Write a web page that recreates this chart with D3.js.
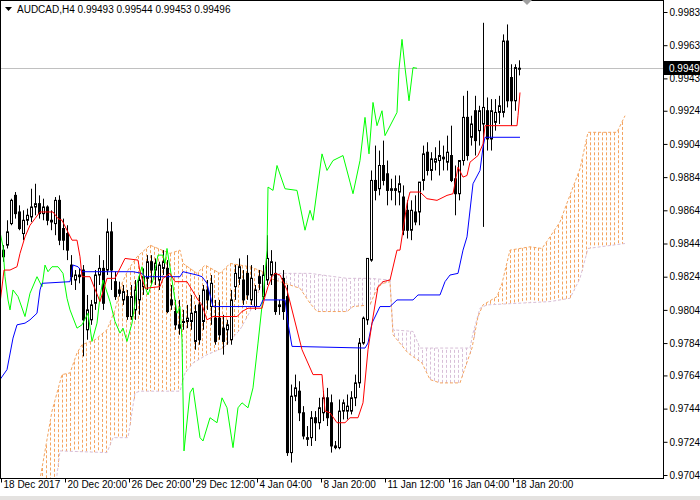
<!DOCTYPE html>
<html><head><meta charset="utf-8">
<script src="https://cdn.jsdelivr.net/npm/d3@7"></script>
<style>body{margin:0;background:#fff}svg{display:block}text{font-family:"Liberation Sans",Arial,sans-serif}</style>
</head><body><svg id="c" width="700" height="500"></svg>
<script>
const symbol = "AUDCAD,H4";
const lastQuote = [0.99493, 0.99544, 0.99453, 0.99496];
const dateLabels = ["18 Dec 2017","20 Dec 20:00","26 Dec 20:00","29 Dec 12:00","4 Jan 04:00","8 Jan 20:00","11 Jan 12:00","16 Jan 04:00","18 Jan 20:00"];
const dateLabelBars = [0,16,32,48,64,80,96,112,128];
const priceTicks = [0.99835,0.99635,0.99435,0.99240,0.99040,0.98840,0.98640,0.98440,0.98240,0.98040,0.97840,0.97645,0.97445,0.97245,0.97045];
// OHLC per H4 bar
const opens  = [.9840,.9843,.9856,.9873,.9863,.9850,.9858,.9860,.9866,.9868,.9862,.9866,.9858,.9856,.9870,.9853,.9850,.9831,.9822,.9825,.9828,.9792,.9798,.9808,.9825,.9829,.9828,.9851,.9821,.9816,.9810,.9812,.9800,.9804,.9810,.9818,.9823,.9833,.9828,.9822,.9829,.9829,.9810,.9803,.9795,.9797,.9797,.9797,.9785,.9807,.9797,.9816,.9806,.9799,.9799,.9793,.9792,.9786,.9818,.9823,.9822,.9826,.9810,.9806,.9824,.9812,.9822,.9825,.9826,.9806,.9823,.9812,.9718,.9752,.9755,.9742,.9726,.9727,.9739,.9736,.9742,.9751,.9748,.9722,.9721,.9743,.9743,.9743,.9751,.9760,.9784,.9798,.9834,.9882,.9877,.9891,.9886,.9876,.9877,.9875,.9872,.9864,.9852,.9863,.9863,.9882,.9899,.9888,.9893,.9894,.9895,.9893,.9897,.9883,.9874,.9894,.9920,.9908,.9924,.9912,.9916,.9924,.9907,.9917,.9923,.9923,.9966,.9944,.9930,.99493];
const highs  = [.9843,.9858,.9871,.9875,.9867,.9864,.9865,.9877,.9880,.9873,.9871,.9867,.9864,.9872,.9873,.9859,.9855,.9837,.9828,.9829,.9831,.9813,.9810,.9828,.9837,.9834,.9859,.9857,.9827,.9821,.9819,.9816,.9819,.9822,.9825,.9829,.9837,.9837,.9835,.9833,.9840,.9834,.9819,.9810,.9810,.9804,.9807,.9813,.9807,.9813,.9819,.9822,.9825,.9810,.9810,.9801,.9798,.9816,.9831,.9835,.9828,.9837,.9831,.9819,.9828,.9831,.9849,.9840,.9833,.9810,.9828,.9819,.9759,.9765,.9761,.9746,.9734,.9743,.9743,.9751,.9755,.9757,.9753,.9725,.9750,.9750,.9753,.9755,.9765,.9787,.9800,.9835,.9888,.9903,.9900,.9906,.9894,.9883,.9885,.9885,.9879,.9870,.9870,.9873,.9881,.9903,.9905,.9899,.9902,.9906,.9903,.9909,.9915,.9891,.9894,.9933,.9936,.9921,.9933,.9927,.9977,.9932,.9931,.9931,.9933,.9970,.9976,.9952,.9952,.99544];
const lows   = [.9833,.9841,.9855,.9859,.9852,.9846,.9855,.9857,.9861,.9859,.9858,.9855,.9852,.9849,.9843,.9840,.9834,.9819,.9816,.9820,.9776,.9786,.9795,.9804,.9819,.9804,.9825,.9816,.9810,.9812,.9807,.9798,.9798,.9798,.9801,.9813,.9816,.9819,.9819,.9816,.9825,.9802,.9804,.9792,.9789,.9792,.9793,.9792,.9780,.9783,.9792,.9804,.9795,.9783,.9786,.9777,.9783,.9783,.9810,.9819,.9807,.9810,.9807,.9804,.9816,.9810,.9819,.9819,.9801,.9801,.9798,.9716,.9712,.9749,.9737,.9726,.9722,.9722,.9725,.9732,.9737,.9734,.9718,.9720,.9720,.9738,.9738,.9741,.9746,.9757,.9783,.9795,.9833,.9870,.9873,.9879,.9867,.9870,.9867,.9867,.9849,.9847,.9846,.9855,.9855,.9876,.9885,.9882,.9888,.9885,.9888,.9888,.9881,.9861,.9870,.9891,.9894,.9903,.9897,.9903,.9854,.9900,.9900,.9912,.9916,.9920,.9926,.9915,.9924,.99453];
const closes = [.9836,.9851,.9870,.9862,.9853,.9858,.9861,.9866,.9868,.9862,.9866,.9858,.9857,.9870,.9846,.9846,.9840,.9824,.9825,.9824,.9798,.9804,.9807,.9825,.9829,.9808,.9851,.9828,.9812,.9814,.9815,.9800,.9812,.9816,.9822,.9824,.9833,.9828,.9832,.9831,.9833,.9803,.9807,.9795,.9793,.9797,.9799,.9802,.9803,.9786,.9816,.9810,.9820,.9785,.9789,.9785,.9795,.9810,.9826,.9830,.9810,.9813,.9823,.9816,.9820,.9825,.9835,.9833,.9803,.9807,.9803,.9718,.9752,.9757,.9742,.9728,.9727,.9739,.9736,.9745,.9751,.9739,.9722,.9721,.9743,.9748,.9746,.9751,.9760,.9784,.9799,.9835,.9882,.9876,.9891,.9882,.9876,.9877,.9876,.9880,.9852,.9852,.9864,.9857,.9881,.9898,.9888,.9895,.9895,.9897,.9896,.9899,.9882,.9874,.9894,.9920,.9897,.9916,.9906,.9924,.9926,.9907,.9924,.9923,.9927,.9966,.9930,.9930,.9950,.99496];
// Ichimoku lines as [bar index, price]
const tenkan = [[-0.75,.9808],[0.25,.9828],[1.75,.9828],[3.5,.9830],[4.25,.9838],[5.5,.9848],[6.75,.9855],[8,.9859],[9.25,.9863],[12.5,.9863],[13.75,.9859],[14.75,.9858],[16,.9852],[17.25,.9846],[18.5,.9846],[19.25,.9836],[19.75,.9824],[21.75,.9824],[24.25,.9809],[26,.9823],[28,.9823],[30.5,.9835],[33.75,.9834],[34.25,.9827],[35.5,.9817],[39.25,.9818],[40,.9823],[41.75,.9826],[43,.9821],[46,.9821],[47.25,.9816],[48.75,.9810],[49.75,.9807],[51,.9798],[52.5,.9800],[58.5,.9800],[59.75,.9803],[61.25,.9805],[64.75,.9805],[65.5,.9812],[66.25,.9818],[67.25,.9824],[68,.9826],[69.25,.9825],[71,.9816],[74.75,.9780],[77.5,.9765],[79.75,.9765],[80.5,.9743],[81.75,.9742],[83.5,.9736],[85.5,.9736],[86.75,.9739],[88.75,.9739],[90,.9748],[91.25,.9780],[92.25,.9796],[93.75,.9818],[95,.9821],[96.75,.9822],[98.5,.9840],[99.25,.9840],[101,.9868],[101.75,.9875],[104.25,.9875],[106,.9871],[108.5,.9870],[111,.9873],[112.5,.9874],[113.75,.9890],[115,.9884],[116,.9885],[116.75,.9893],[118.75,.9897],[120,.9904],[120.5,.9915],[128.5,.9915],[128.75,.9921],[129.25,.9935]];
const kijun = [[-0.75,.9762],[1,.9768],[2.5,.9787],[3.5,.9795],[5.5,.9796],[6.75,.9798],[8.5,.9802],[9.25,.9816],[9.75,.9820],[16.75,.9821],[17.5,.9831],[18.75,.9830],[19.75,.9827],[32.5,.9827],[34.75,.9826],[35.5,.9824],[44.25,.9824],[45,.9827],[48.5,.9825],[49.75,.9824],[51,.9820],[52.5,.9806],[64.25,.9806],[65,.9810],[70.5,.9810],[71.25,.9796],[72.25,.9782],[90.5,.9781],[91.25,.9784],[92.25,.9796],[94.25,.9806],[96.75,.9806],[98.5,.9810],[102.5,.9810],[103.75,.9813],[109.25,.9813],[110.5,.9821],[111.75,.9825],[113.75,.9826],[115,.9840],[116,.9848],[117.5,.9880],[119.25,.9888],[120,.9902],[120.5,.9908],[129.25,.9908]];
const chikou = [[-0.75,.9851],[0,.9842],[0.5,.9824],[1.25,.9810],[1.75,.9804],[2.5,.9816],[3.75,.9812],[5.5,.9800],[6.75,.9814],[8.5,.9824],[9.75,.9818],[10.5,.9831],[11.25,.9827],[12.25,.9830],[13.75,.9830],[15,.9826],[16,.9811],[16.75,.9804],[18.5,.9793],[19.75,.9795],[21.25,.9802],[22.25,.9785],[23.5,.9796],[24.25,.9812],[25,.9822],[26.75,.9809],[28,.9797],[29.25,.9790],[30,.9793],[31,.9785],[32.25,.9796],[33,.9808],[33.5,.9820],[34.75,.9830],[35.5,.9818],[36.25,.9813],[37.5,.9822],[38.75,.9837],[40,.9837],[40.5,.9832],[41,.9841],[42.25,.9822],[43.5,.9802],[44.25,.9806],[44.75,.9786],[45.25,.9719],[46.75,.9754],[47.5,.9757],[49.25,.9727],[50,.9725],[51.75,.9739],[53.5,.9736],[54.75,.9751],[56,.9745],[57.5,.9721],[58.75,.9745],[59.75,.9748],[61.25,.9745],[62.5,.9757],[63.75,.9784],[65,.9812],[66,.9840],[66.25,.9878],[67.5,.9876],[68.5,.9891],[70.5,.9877],[73.5,.9876],[75.5,.9852],[76.75,.9864],[77.5,.9858],[79.75,.9898],[81,.9888],[82.5,.9894],[85,.9897],[86.75,.9881],[87.5,.9874],[89.25,.9894],[90.5,.9920],[91.5,.9898],[92.5,.9929],[93.5,.9915],[94.75,.9924],[95.5,.9909],[98.5,.9923],[99,.9949],[99.75,.9967],[100.5,.9950],[101.5,.9930],[102.5,.9950],[103.5,.99496]];
const spanA = [[8.75,.9695],[10.5,.9719],[12.25,.9743],[14.75,.9765],[16.75,.9766],[18.5,.9778],[19.75,.9783],[23,.9786],[26,.9792],[28,.9804],[29.75,.9820],[31.25,.9828],[33.5,.9836],[36.75,.9843],[41.75,.9838],[44.25,.9840],[45,.9832],[48.5,.9826],[50.5,.9831],[54.25,.9826],[56.75,.9832],[61.75,.9830],[65,.9827],[66.75,.9823],[69.25,.9821],[74.25,.9817],[76.75,.9808],[78.5,.9803],[86,.9803],[87.5,.9806],[91.75,.9807],[93.5,.9817],[95,.9820],[96.75,.9821],[97.5,.9789],[101.25,.9778],[104.75,.9772],[106.75,.9762],[109.25,.9760],[114.25,.9760],[115.5,.9769],[117.25,.9781],[118.75,.9800],[120,.9807],[123.5,.9812],[124.75,.9820],[126.75,.9840],[131.75,.9842],[134.75,.9841],[136.75,.9848],[139.25,.9857],[141.25,.9870],[144.25,.9889],[146.25,.9911],[153.5,.9911],[155.5,.9921]];
const spanB = [[13,.9695],[14.25,.9719],[26,.9718],[27.5,.9727],[31.25,.9727],[33,.9754],[34.25,.9755],[44.25,.9755],[45.5,.9766],[47.5,.9772],[51,.9777],[55,.9781],[59.25,.9792],[61.75,.9803],[63.5,.9813],[65,.9821],[68,.9825],[69.25,.9826],[76.75,.9826],[86,.9823],[91.75,.9823],[96.75,.9822],[97.5,.9792],[102.5,.9791],[104.25,.9781],[116.75,.9781],[117.5,.9790],[119.25,.9805],[121,.9807],[136.75,.9809],[141.75,.9811],[144.25,.9823],[146.25,.9841],[155.5,.9844]];

const svg = d3.select("#c");
const W = 664, B = 478;
const x = d3.scaleLinear().domain([-0.75, 165.25]).range([0, W]);
const y = d3.scaleLinear().domain([0.97045, 0.99835]).range([475, 12]);

svg.append("defs").append("clipPath").attr("id","clip").append("rect").attr("x",1).attr("y",1).attr("width",W-1).attr("height",B-1);
const g = svg.append("g").attr("clip-path","url(#clip)");

function interp(arr, i){
  if (i < arr[0][0] || i > arr[arr.length-1][0]) return null;
  const k = d3.bisector(d=>d[0]).left(arr, i);
  if (k === 0) return arr[0][1];
  const a = arr[k-1], b = arr[k];
  return a[1] + (b[1]-a[1])*(i-a[0])/(b[0]-a[0]);
}
for (let px = Math.ceil(x(spanA[0][0])); px <= x(155.5); px += 4) {
  const i = x.invert(px);
  const a = interp(spanA, i), b = interp(spanB, i);
  if (a == null) continue;
  const bb = b == null ? 0.9690 : b;
  g.append("line").attr("x1",px+0.5).attr("x2",px+0.5).attr("y1",y(a)).attr("y2",y(bb))
   .attr("stroke", a >= bb ? "#f4a460" : "#d8bfd8").attr("stroke-width",1).attr("stroke-dasharray","3,2");
}
const line = d3.line().x(d=>x(d[0])).y(d=>y(d[1]));
g.append("path").datum(spanB).attr("d",line).attr("fill","none").attr("stroke","#d8bfd8").attr("stroke-dasharray","3,2");
g.append("path").datum(spanA).attr("d",line).attr("fill","none").attr("stroke","#f4a460").attr("stroke-dasharray","3,2");

g.append("line").attr("x1",0).attr("x2",W).attr("y1",Math.round(y(lastQuote[3]))+0.5).attr("y2",Math.round(y(lastQuote[3]))+0.5).attr("stroke","#c0c0c0");

closes.forEach((c,i)=>{
  const o = opens[i], cx = Math.round(x(i));
  g.append("line").attr("x1",cx+0.5).attr("x2",cx+0.5).attr("y1",y(highs[i])).attr("y2",y(lows[i])).attr("stroke","#000");
  const top = y(Math.max(o,c)), bot = y(Math.min(o,c));
  g.append("rect").attr("x",cx-0.5).attr("y",top).attr("width",2).attr("height",Math.max(1,bot-top))
   .attr("fill", c>=o ? "#fff" : "#000").attr("stroke","#000").attr("stroke-width",1);
});

g.append("path").datum(chikou).attr("d",line).attr("fill","none").attr("stroke","#00ff00");
g.append("path").datum(kijun).attr("d",line).attr("fill","none").attr("stroke","#0000ff");
g.append("path").datum(tenkan).attr("d",line).attr("fill","none").attr("stroke","#ff0000");

svg.append("line").attr("x1",0.5).attr("x2",0.5).attr("y1",0).attr("y2",B).attr("stroke","#000");
svg.append("line").attr("x1",0).attr("x2",W).attr("y1",0.5).attr("y2",0.5).attr("stroke","#000");
const ay = svg.append("g").attr("transform",`translate(${W-0.5},0)`)
  .call(d3.axisRight(y).tickValues(priceTicks).tickSize(4).tickFormat(d3.format(".5f")));
ay.select(".domain").attr("d",`M0,0V${B}`);
ay.selectAll("text").attr("font-size",10).attr("x",6).attr("fill","#000");
const ax = svg.append("g").attr("transform",`translate(0,${B+0.5})`)
  .call(d3.axisBottom(x).tickValues(dateLabelBars).tickSize(4).tickFormat((d,k)=>dateLabels[k]));
ax.select(".domain").attr("d",`M0,0H${W}`);
ax.selectAll(".tick line").attr("transform","translate(-2,0)");
ax.selectAll("text").attr("font-size",10).attr("text-anchor","start").attr("x",0).attr("dy","0.5em").attr("y",4);
const py = Math.round(y(lastQuote[3]));
svg.append("rect").attr("x",W).attr("y",py-7).attr("width",36).attr("height",14).attr("fill","#000");
svg.append("text").attr("x",W+5).attr("y",py+4).attr("fill","#fff").attr("font-size",10).text(d3.format(".5f")(lastQuote[3]));
svg.append("path").attr("d","M5,7L12,7L8.5,11Z").attr("fill","#000");
svg.append("text").attr("x",17).attr("y",13).attr("font-size",10).attr("fill","#000")
  .text(symbol + "  " + lastQuote.map(d3.format(".5f")).join(" "));
svg.append("path").attr("d","M522,0L532,0L527,5Z").attr("fill","#a0a0a0");
svg.append("rect").attr("x",0).attr("y",496).attr("width",700).attr("height",4).attr("fill","#e4e2e0");
</script></body></html>
